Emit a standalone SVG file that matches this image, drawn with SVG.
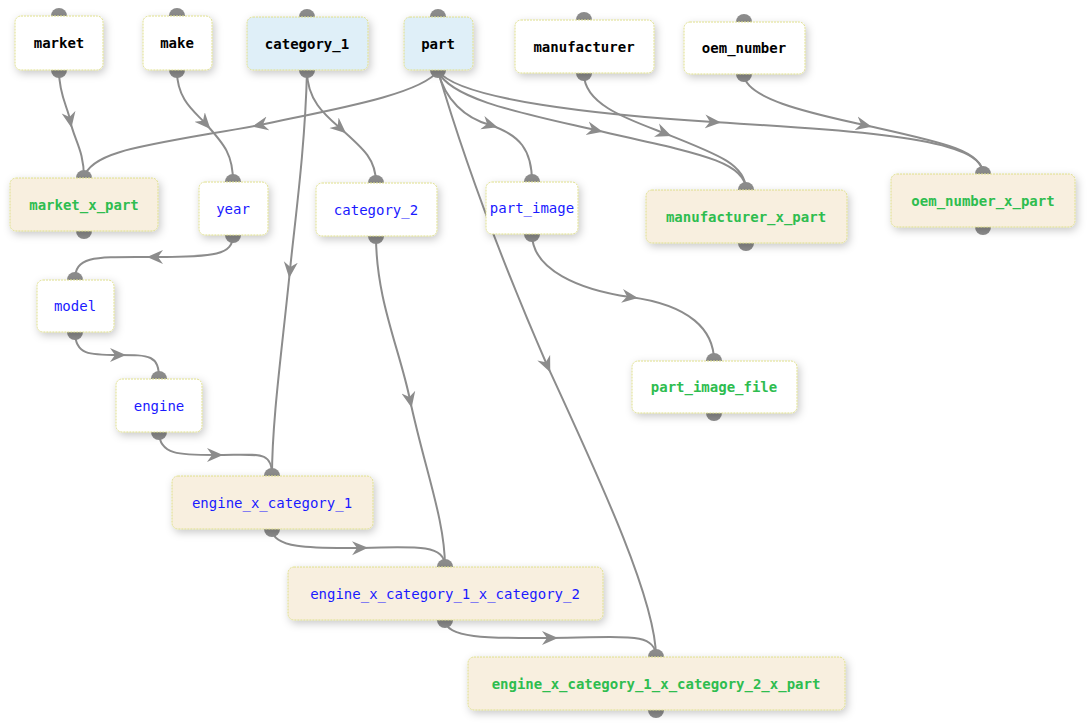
<svg xmlns="http://www.w3.org/2000/svg" width="1087" height="726" viewBox="0 0 1087 726">
<defs>
<filter id="sh" x="-20%" y="-30%" width="140%" height="160%"><feDropShadow dx="2" dy="3" stdDeviation="4" flood-color="#000" flood-opacity="0.22"/></filter>
<marker id="ar" viewBox="-8 -8 16 16" markerWidth="16" markerHeight="16" refX="0" refY="0" orient="auto" markerUnits="userSpaceOnUse"><path d="M-8,-7 L8,0 L-8,7 L-3,0 z" fill="#8c8c8c"/></marker>
<style>
.c path{fill:none;stroke:#8c8c8c;stroke-width:2;marker-mid:url(#ar)}
.d{fill:#8c8c8c}
.n rect{stroke:#dede8a;stroke-width:1;stroke-dasharray:2 1;filter:url(#sh)}
.w{fill:#fff}.b{fill:#dfeff8}.y{fill:#f8efdf}
text{font-family:"DejaVu Sans Mono","Liberation Mono",monospace;font-size:14px;text-anchor:middle;dominant-baseline:central}
.k{fill:#000;font-weight:bold}.g{fill:#2ebd4f;font-weight:bold}.u{fill:#1a1aff}
</style>
</defs>
<g class="c" id="connectors">
<path d="M59,71 C59,95 68,108 70,120 C74,140 84,150 84,178"/>
<path d="M177,71 C177,100 195,112 205,123 C225,145 233,155 233,182"/>
<path d="M307,71 C307,100 325,115 340,128 C365,150 376,160 376,183"/>
<path d="M307,71 C305,150 295,220 290,270 C282,350 272,420 272,476"/>
<path d="M376,236 C376,300 400,350 410,400 C425,470 445,520 445,567"/>
<path d="M438,71 C420,95 330,110 260,125 C150,145 90,150 84,178"/>
<path d="M438,71 C445,100 465,118 490,125 C520,135 532,150 532,182"/>
<path d="M438,71 C450,100 530,115 595,130 C690,152 746,160 746,190"/>
<path d="M438,71 C460,100 600,115 713,122 C880,132 983,140 983,174"/>
<path d="M438,71 C470,180 510,280 547,365 C600,480 656,600 656,657"/>
<path d="M584,74 C584,105 630,120 664,133 C720,155 746,165 746,190"/>
<path d="M744,74 C744,100 820,115 864,125 C940,142 983,150 983,174"/>
<path d="M233,235 C233,255 215,257 155,257 C95,257 75,255 75,280"/>
<path d="M75,332 C75,355 90,355 118,355 C150,355 159,355 159,379"/>
<path d="M532,234 C532,270 580,290 630,297 C690,305 714,330 714,361"/>
<path d="M159,432 C159,455 180,455 215,455 C260,455 272,450 272,476"/>
<path d="M272,529 C272,550 320,548 360,548 C420,546 445,545 445,567"/>
<path d="M445,620 C445,640 500,638 550,638 C620,638 656,630 656,657"/>
</g>
<g id="n-market" class="n"><circle class="d" cx="59" cy="16" r="8"/><circle class="d" cx="59" cy="70" r="8"/><rect class="w" x="15" y="16" width="88" height="54" rx="6"/><text class="k" x="59" y="43">market</text></g>
<g id="n-make" class="n"><circle class="d" cx="177" cy="16" r="8"/><circle class="d" cx="177" cy="70" r="8"/><rect class="w" x="143" y="16" width="69" height="54" rx="6"/><text class="k" x="177" y="43">make</text></g>
<g id="n-category_1" class="n"><circle class="d" cx="307" cy="17" r="8"/><circle class="d" cx="307" cy="70" r="8"/><rect class="b" x="247" y="17" width="121" height="53" rx="6"/><text class="k" x="307" y="44">category_1</text></g>
<g id="n-part" class="n"><circle class="d" cx="438" cy="17" r="8"/><circle class="d" cx="438" cy="70" r="8"/><rect class="b" x="404" y="17" width="69" height="53" rx="6"/><text class="k" x="438" y="44">part</text></g>
<g id="n-manufacturer" class="n"><circle class="d" cx="584" cy="20" r="8"/><circle class="d" cx="584" cy="73" r="8"/><rect class="w" x="515" y="20" width="139" height="53" rx="6"/><text class="k" x="584" y="47">manufacturer</text></g>
<g id="n-oem_number" class="n"><circle class="d" cx="744" cy="22" r="8"/><circle class="d" cx="744" cy="74" r="8"/><rect class="w" x="684" y="22" width="121" height="52" rx="6"/><text class="k" x="744" y="48">oem_number</text></g>
<g id="n-market_x_part" class="n"><circle class="d" cx="84" cy="178" r="8"/><circle class="d" cx="84" cy="231" r="8"/><rect class="y" x="10" y="178" width="148" height="53" rx="6"/><text class="g" x="84" y="205">market_x_part</text></g>
<g id="n-year" class="n"><circle class="d" cx="233" cy="182" r="8"/><circle class="d" cx="233" cy="235" r="8"/><rect class="w" x="199" y="182" width="69" height="53" rx="6"/><text class="u" x="233" y="209">year</text></g>
<g id="n-category_2" class="n"><circle class="d" cx="376" cy="183" r="8"/><circle class="d" cx="376" cy="236" r="8"/><rect class="w" x="316" y="183" width="121" height="53" rx="6"/><text class="u" x="376" y="210">category_2</text></g>
<g id="n-part_image" class="n"><circle class="d" cx="532" cy="182" r="8"/><circle class="d" cx="532" cy="234" r="8"/><rect class="w" x="486" y="182" width="92" height="52" rx="6"/><text class="u" x="532" y="208">part_image</text></g>
<g id="n-manufacturer_x_part" class="n"><circle class="d" cx="746" cy="190" r="8"/><circle class="d" cx="746" cy="243" r="8"/><rect class="y" x="646" y="190" width="201" height="53" rx="6"/><text class="g" x="746" y="217">manufacturer_x_part</text></g>
<g id="n-oem_number_x_part" class="n"><circle class="d" cx="983" cy="174" r="8"/><circle class="d" cx="983" cy="227" r="8"/><rect class="y" x="891" y="174" width="184" height="53" rx="6"/><text class="g" x="983" y="201">oem_number_x_part</text></g>
<g id="n-model" class="n"><circle class="d" cx="75" cy="280" r="8"/><circle class="d" cx="75" cy="332" r="8"/><rect class="w" x="37" y="280" width="77" height="52" rx="6"/><text class="u" x="75" y="306">model</text></g>
<g id="n-engine" class="n"><circle class="d" cx="159" cy="379" r="8"/><circle class="d" cx="159" cy="432" r="8"/><rect class="w" x="116" y="379" width="86" height="53" rx="6"/><text class="u" x="159" y="406">engine</text></g>
<g id="n-part_image_file" class="n"><circle class="d" cx="714" cy="361" r="8"/><circle class="d" cx="714" cy="413" r="8"/><rect class="w" x="632" y="361" width="165" height="52" rx="6"/><text class="g" x="714" y="387">part_image_file</text></g>
<g id="n-engine_x_category_1" class="n"><circle class="d" cx="272" cy="476" r="8"/><circle class="d" cx="272" cy="529" r="8"/><rect class="y" x="172" y="476" width="201" height="53" rx="6"/><text class="u" x="272" y="503">engine_x_category_1</text></g>
<g id="n-engine_x_category_1_x_category_2" class="n"><circle class="d" cx="445" cy="567" r="8"/><circle class="d" cx="445" cy="620" r="8"/><rect class="y" x="288" y="567" width="315" height="53" rx="6"/><text class="u" x="445" y="594">engine_x_category_1_x_category_2</text></g>
<g id="n-engine_x_category_1_x_category_2_x_part" class="n"><circle class="d" cx="656" cy="657" r="8"/><circle class="d" cx="656" cy="710" r="8"/><rect class="y" x="468" y="657" width="377" height="53" rx="6"/><text class="g" x="656" y="684">engine_x_category_1_x_category_2_x_part</text></g>
</svg>
